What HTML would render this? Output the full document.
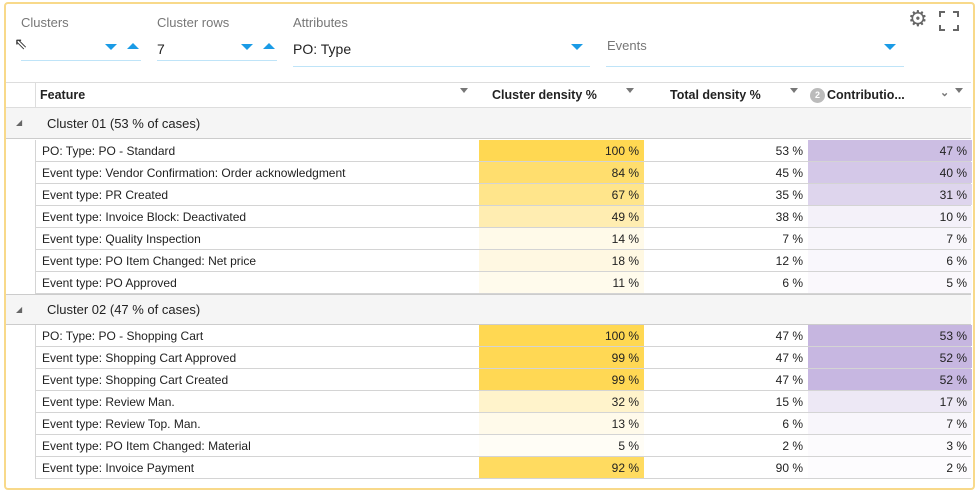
<!DOCTYPE html>
<html><head><meta charset="utf-8"><style>
*{box-sizing:border-box;margin:0;padding:0}
body{width:976px;height:492px;background:#fff;font-family:"Liberation Sans",sans-serif;color:#222;position:relative;overflow:hidden}
.frame{position:absolute;left:4px;top:2px;width:971px;height:488px;border:2px solid #f8d98a;border-radius:4px}
.lbl{position:absolute;font-size:13px;color:#777}
.val{position:absolute;font-size:14px;color:#222}
.ul{position:absolute;height:1px;background:#bfe4f8}
.dn{position:absolute;width:0;height:0;border-left:6px solid transparent;border-right:6px solid transparent;border-top:6px solid #1a9be6}
.up{position:absolute;width:0;height:0;border-left:6px solid transparent;border-right:6px solid transparent;border-bottom:6px solid #1a9be6}
.tbl{position:absolute;left:6px;top:82px;width:965px}
.hdr{position:absolute;left:0;top:0;width:965px;height:26px;border-top:1px solid #ddd;border-bottom:1px solid #ddd;background:#fff;font-weight:bold;font-size:12.5px}
.hdr div{position:absolute;top:5px}
.ch{position:absolute;left:0;width:965px;height:31px;background:#f5f5f5;border-bottom:1px solid #ccc;font-size:13px}
.row{position:absolute;left:29px;width:936px;height:22px;border-bottom:1px solid #d4d4d4;border-left:1px solid #d4d4d4;font-size:12px}
.row span{position:absolute;top:4px}
.c{position:absolute;top:0;height:21px;text-align:right;padding-right:5px;padding-top:4px}
.filt{position:absolute;top:7px;width:0;height:0;border-left:4px solid transparent;border-right:4px solid transparent;border-top:5px solid #777}
</style></head><body>
<div class="frame"></div>
<div class="lbl" style="left:21px;top:15px">Clusters</div>
<div class="lbl" style="left:157px;top:15px">Cluster rows</div>
<div class="lbl" style="left:293px;top:15px">Attributes</div>
<div class="lbl" style="left:607px;top:38px">Events</div>
<div class="val" style="left:157px;top:41px">7</div>
<div class="val" style="left:293px;top:41px">PO: Type</div>
<div class="ul" style="left:21px;top:60px;width:120px"></div>
<div class="ul" style="left:157px;top:60px;width:120px"></div>
<div class="ul" style="left:293px;top:66px;width:297px"></div>
<div class="ul" style="left:606px;top:66px;width:298px"></div>
<div class="dn" style="left:105px;top:44px"></div><div class="up" style="left:127px;top:43px"></div>
<div class="dn" style="left:241px;top:44px"></div><div class="up" style="left:263px;top:43px"></div>
<div class="dn" style="left:571px;top:44px"></div><div class="dn" style="left:884px;top:44px"></div>
<div style="position:absolute;left:908px;top:8px;font-size:22px;color:#666;line-height:22px">⚙</div>
<div style="position:absolute;left:939px;top:11px;width:20px;height:20px;border:2px solid #666;"></div>
<div style="position:absolute;left:945px;top:9px;width:8px;height:24px;background:#fff"></div>
<div style="position:absolute;left:937px;top:17px;width:24px;height:8px;background:#fff"></div>
<div style="position:absolute;left:14px;top:34px;font-size:16px;color:#333">⇖</div>

<div class="tbl">
<div class="hdr">
<div style="left:29px;top:0;height:25px;border-left:1px solid #ddd"></div>
<div style="left:34px">Feature</div><div class="filt" style="left:454px"></div>
<div style="left:486px">Cluster density %</div><div class="filt" style="left:620px"></div>
<div style="left:664px">Total density %</div><div class="filt" style="left:784px"></div>
<div style="left:804px;top:5px;width:15px;height:15px;border-radius:50%;background:#bbb;color:#fff;font-size:9px;text-align:center;line-height:15px">2</div>
<div style="left:821px">Contributio...</div>
<div style="left:934px;top:3px;color:#777;font-size:11px">&#8964;</div><div class="filt" style="left:949px"></div>
</div>

<div class="ch" style="top:26px"><span style="position:absolute;left:10px;top:10px;font-size:8px;color:#666">◢</span><span style="position:absolute;left:41px;top:8px">Cluster 01 (53 % of cases)</span></div>
<div class="row" style="top:58px"><span style="left:6px">PO: Type: PO - Standard</span><div class="c" style="left:443px;width:165px;background:rgba(255,216,82,1)">100 %</div><div class="c" style="left:608px;width:164px">53 %</div><div class="c" style="left:772px;width:164px;background:rgba(198,182,224,.89)">47 %</div></div>
<div class="row" style="top:80px"><span style="left:6px">Event type: Vendor Confirmation: Order acknowledgment</span><div class="c" style="left:443px;width:165px;background:rgba(255,216,82,.84)">84 %</div><div class="c" style="left:608px;width:164px">45 %</div><div class="c" style="left:772px;width:164px;background:rgba(198,182,224,.75)">40 %</div></div>
<div class="row" style="top:102px"><span style="left:6px">Event type: PR Created</span><div class="c" style="left:443px;width:165px;background:rgba(255,216,82,.67)">67 %</div><div class="c" style="left:608px;width:164px">35 %</div><div class="c" style="left:772px;width:164px;background:rgba(198,182,224,.58)">31 %</div></div>
<div class="row" style="top:124px"><span style="left:6px">Event type: Invoice Block: Deactivated</span><div class="c" style="left:443px;width:165px;background:rgba(255,216,82,.45)">49 %</div><div class="c" style="left:608px;width:164px">38 %</div><div class="c" style="left:772px;width:164px;background:rgba(198,182,224,.19)">10 %</div></div>
<div class="row" style="top:146px"><span style="left:6px">Event type: Quality Inspection</span><div class="c" style="left:443px;width:165px;background:rgba(255,216,82,.13)">14 %</div><div class="c" style="left:608px;width:164px">7 %</div><div class="c" style="left:772px;width:164px;background:rgba(198,182,224,.13)">7 %</div></div>
<div class="row" style="top:168px"><span style="left:6px">Event type: PO Item Changed: Net price</span><div class="c" style="left:443px;width:165px;background:rgba(255,216,82,.17)">18 %</div><div class="c" style="left:608px;width:164px">12 %</div><div class="c" style="left:772px;width:164px;background:rgba(198,182,224,.11)">6 %</div></div>
<div class="row" style="top:190px"><span style="left:6px">Event type: PO Approved</span><div class="c" style="left:443px;width:165px;background:rgba(255,216,82,.11)">11 %</div><div class="c" style="left:608px;width:164px">6 %</div><div class="c" style="left:772px;width:164px;background:rgba(198,182,224,.09)">5 %</div></div>

<div class="ch" style="top:212px;border-top:1px solid #ccc"><span style="position:absolute;left:10px;top:10px;font-size:8px;color:#666">◢</span><span style="position:absolute;left:41px;top:7px">Cluster 02 (47 % of cases)</span></div>
<div class="row" style="top:243px"><span style="left:6px">PO: Type: PO - Shopping Cart</span><div class="c" style="left:443px;width:165px;background:rgba(255,216,82,1)">100 %</div><div class="c" style="left:608px;width:164px">47 %</div><div class="c" style="left:772px;width:164px;background:rgba(198,182,224,1)">53 %</div></div>
<div class="row" style="top:265px"><span style="left:6px">Event type: Shopping Cart Approved</span><div class="c" style="left:443px;width:165px;background:rgba(255,216,82,.99)">99 %</div><div class="c" style="left:608px;width:164px">47 %</div><div class="c" style="left:772px;width:164px;background:rgba(198,182,224,.98)">52 %</div></div>
<div class="row" style="top:287px"><span style="left:6px">Event type: Shopping Cart Created</span><div class="c" style="left:443px;width:165px;background:rgba(255,216,82,.99)">99 %</div><div class="c" style="left:608px;width:164px">47 %</div><div class="c" style="left:772px;width:164px;background:rgba(198,182,224,.98)">52 %</div></div>
<div class="row" style="top:309px"><span style="left:6px">Event type: Review Man.</span><div class="c" style="left:443px;width:165px;background:rgba(255,216,82,.3)">32 %</div><div class="c" style="left:608px;width:164px">15 %</div><div class="c" style="left:772px;width:164px;background:rgba(198,182,224,.32)">17 %</div></div>
<div class="row" style="top:331px"><span style="left:6px">Event type: Review Top. Man.</span><div class="c" style="left:443px;width:165px;background:rgba(255,216,82,.12)">13 %</div><div class="c" style="left:608px;width:164px">6 %</div><div class="c" style="left:772px;width:164px;background:rgba(198,182,224,.13)">7 %</div></div>
<div class="row" style="top:353px"><span style="left:6px">Event type: PO Item Changed: Material</span><div class="c" style="left:443px;width:165px;background:rgba(255,216,82,.05)">5 %</div><div class="c" style="left:608px;width:164px">2 %</div><div class="c" style="left:772px;width:164px;background:rgba(198,182,224,.06)">3 %</div></div>
<div class="row" style="top:375px"><span style="left:6px">Event type: Invoice Payment</span><div class="c" style="left:443px;width:165px;background:rgba(255,216,82,.92)">92 %</div><div class="c" style="left:608px;width:164px">90 %</div><div class="c" style="left:772px;width:164px;background:rgba(198,182,224,.04)">2 %</div></div>
</div>
</body></html>
